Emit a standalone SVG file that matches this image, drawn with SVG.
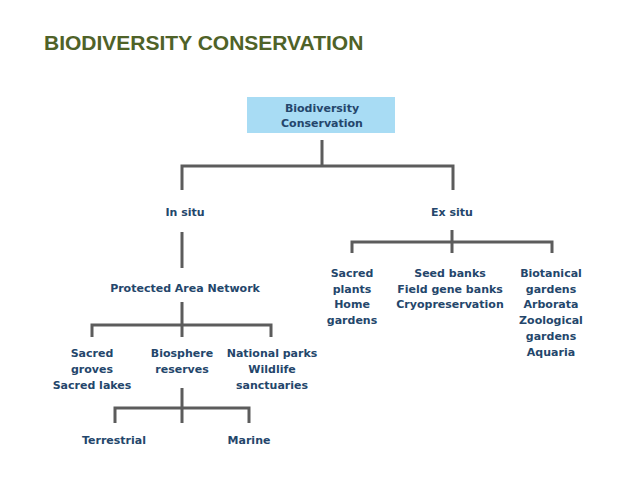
<svg xmlns="http://www.w3.org/2000/svg" width="638" height="478" viewBox="0 0 638 478">
<style>
.t{font-family:"DejaVu Sans",Verdana,sans-serif;font-weight:bold;font-size:11px;fill:#24466b;text-anchor:middle}
.c{fill:none;stroke:#5c5c5c;stroke-width:3}
</style>
<rect width="638" height="478" fill="#ffffff"/>
<text x="44" y="50" font-family="'Liberation Sans',Arial,sans-serif" font-weight="bold" font-size="21" fill="#4f6228">BIODIVERSITY CONSERVATION</text>
<g id="connectors">
<path class="c" d="M322 140V166M182 190V166H453V190"/>
<path class="c" d="M182 232V268"/>
<path class="c" d="M452 230V253M352 253V242H552V253"/>
<path class="c" d="M182 302V337M92 337V325H271V337"/>
<path class="c" d="M182 388V423M115 423V408H249V423"/>
</g>
<g id="root">
<rect x="247" y="97" width="148" height="36" fill="#a8dcf4"/>
<text class="t" x="322" y="112">Biodiversity</text>
<text class="t" x="322" y="127">Conservation</text>
</g>
<g id="insitu"><text class="t" x="185" y="216">In situ</text></g>
<g id="exsitu"><text class="t" x="452" y="216">Ex situ</text></g>
<g id="pan"><text class="t" x="185" y="292">Protected Area Network</text></g>
<g id="sacred-plants">
<text class="t" x="352" y="277">Sacred</text>
<text class="t" x="352" y="293">plants</text>
<text class="t" x="352" y="308">Home</text>
<text class="t" x="352" y="324">gardens</text>
</g>
<g id="seed-banks">
<text class="t" x="450" y="277">Seed banks</text>
<text class="t" x="450" y="293">Field gene banks</text>
<text class="t" x="450" y="308">Cryopreservation</text>
</g>
<g id="gardens">
<text class="t" x="551" y="277">Biotanical</text>
<text class="t" x="551" y="293">gardens</text>
<text class="t" x="551" y="308">Arborata</text>
<text class="t" x="551" y="324">Zoological</text>
<text class="t" x="551" y="340">gardens</text>
<text class="t" x="551" y="356">Aquaria</text>
</g>
<g id="sacred-groves">
<text class="t" x="92" y="357">Sacred</text>
<text class="t" x="92" y="373">groves</text>
<text class="t" x="92" y="389">Sacred lakes</text>
</g>
<g id="biosphere">
<text class="t" x="182" y="357">Biosphere</text>
<text class="t" x="182" y="373">reserves</text>
</g>
<g id="national-parks">
<text class="t" x="272" y="357">National parks</text>
<text class="t" x="272" y="373">Wildlife</text>
<text class="t" x="272" y="389">sanctuaries</text>
</g>
<g id="terrestrial"><text class="t" x="114" y="444">Terrestrial</text></g>
<g id="marine"><text class="t" x="249" y="444">Marine</text></g>
</svg>
